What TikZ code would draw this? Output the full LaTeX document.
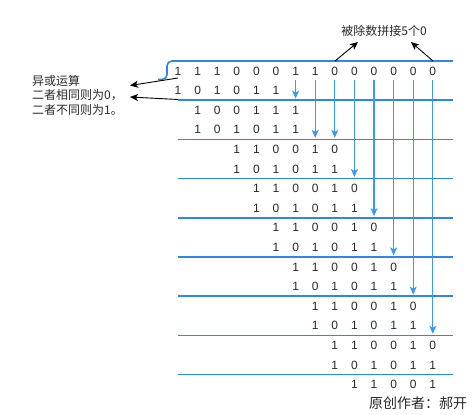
\documentclass[tikz,border=0pt]{standalone}
\usepackage{fontspec}
\setmainfont{Liberation Sans}
\newfontfamily\cjk{Noto Sans CJK SC}
\usetikzlibrary{arrows.meta}
\definecolor{sepblue}{RGB}{45,135,235}
\definecolor{arrblue}{RGB}{60,150,255}
\definecolor{txtgray}{RGB}{40,40,40}
\begin{document}
\begin{tikzpicture}[x=1pt,y=-1pt,
  digit/.style={font=\fontsize{12}{12}\selectfont, inner sep=0pt, anchor=center, text=txtgray},
  seprule/.style={draw=sepblue, line width=1.6pt},
  downarrow/.style={draw=arrblue, line width=1.2pt, -{Stealth[length=8pt,width=7pt,inset=2pt]}},
  blackarrow/.style={draw=black, line width=0.9pt, -{Stealth[length=8pt,width=7pt,inset=2pt]}},
  cjktext/.style={font=\cjk\fontsize{12}{14.5}\selectfont, inner sep=0pt, text=txtgray}]
\useasboundingbox (0,0) rectangle (474,415);

% digits
\foreach \r/\s/\bits in {
  0/0/{1,1,1,0,0,0,1,1,0,0,0,0,0,0},
  1/0/{1,0,1,0,1,1},
  2/1/{1,0,0,1,1,1},
  3/1/{1,0,1,0,1,1},
  4/3/{1,1,0,0,1,0},
  5/3/{1,0,1,0,1,1},
  6/4/{1,1,0,0,1,0},
  7/4/{1,0,1,0,1,1},
  8/5/{1,1,0,0,1,0},
  9/5/{1,0,1,0,1,1},
  10/6/{1,1,0,0,1,0},
  11/6/{1,0,1,0,1,1},
  12/7/{1,1,0,0,1,0},
  13/7/{1,0,1,0,1,1},
  14/8/{1,1,0,0,1,0},
  15/8/{1,0,1,0,1,1},
  16/9/{1,1,0,0,1}}{
  \foreach \b [count=\i from 0] in \bits {
    \node[digit] (d\r-\i) at ({178+19.6*(\s+\i)},{71+19.6*\r}) {\b};
  }
}

% separator lines
\foreach \j in {0,...,7}{
  \coordinate (l\j-a) at (178,{100.1+39.2*\j});
  \coordinate (l\j-b) at (453,{100.1+39.2*\j});
  \draw[seprule] (l\j-a) -- (l\j-b);
}
% top line with hook
\coordinate (hook-a) at (158,79.5);
\coordinate (top-b) at (453,61);
\draw[seprule, rounded corners=5pt] (hook-a) -- (167,79.5) -- (167,61) -- (top-b);

% vertical blue arrows: column / target line
\foreach \c/\t in {6/0,7/1,8/1,9/2,10/3,11/4,12/5,13/6}{
  \coordinate (vs\c) at ({178+19.6*\c},80);
  \coordinate (ve\c) at ({178+19.6*\c},{100.1+39.2*\t-1.5});
  \draw[downarrow] (vs\c) -- (ve\c);
}

% top label
\node[cjktext] (toplabel) at (384,31) {被除数拼接5个0};
\coordinate (ta1) at (335,61);
\coordinate (tb1) at (358,42);
\coordinate (ta2) at (433,61);
\coordinate (tb2) at (411,42);
\draw[blackarrow] (ta1) -- (tb1);
\draw[blackarrow] (ta2) -- (tb2);

% left label
\node[cjktext, anchor=west] (xor1) at (32,80.5) {异或运算};
\node[cjktext, anchor=west] (xor2) at (32,95) {二者相同则为0，};
\node[cjktext, anchor=west] (xor3) at (32,109.5) {二者不同则为1。};
\coordinate (la1) at (178,78);
\coordinate (lb1) at (130,85.5);
\coordinate (la2) at (178,99.5);
\coordinate (lb2) at (130,97);
\draw[blackarrow] (la1) -- (lb1);
\draw[blackarrow] (la2) -- (lb2);

% author
\node[font=\cjk\fontsize{14}{16}\selectfont, inner sep=0pt, text=txtgray] (author) at (418,403) {原创作者：郝开};
\end{tikzpicture}
\end{document}
